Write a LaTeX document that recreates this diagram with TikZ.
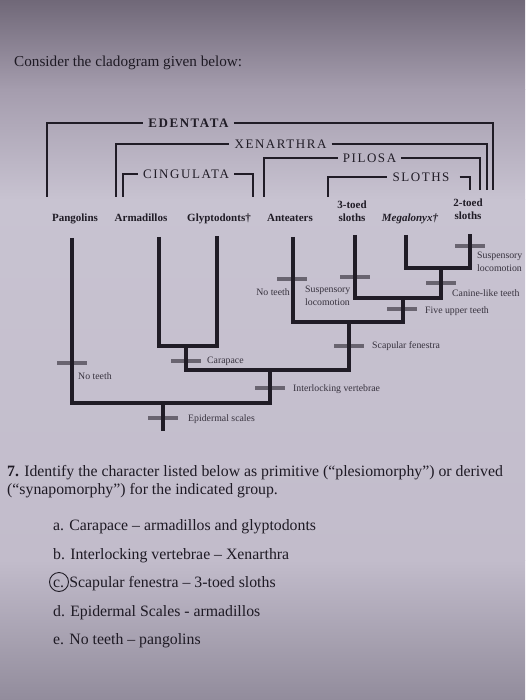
\documentclass[tikz,border=0pt]{standalone}
\usepackage{fontspec}
\setmainfont{Liberation Serif}
\newfontfamily\spacedfont[LetterSpace=12]{Liberation Serif}
\definecolor{ink}{RGB}{32,28,38}
\definecolor{labink}{RGB}{55,50,62}
\definecolor{qink}{RGB}{30,26,36}
\definecolor{tickgray}{RGB}{105,100,112}
\definecolor{bgtop}{RGB}{112,104,120}
\definecolor{bgupper}{RGB}{165,157,174}
\definecolor{bglight}{RGB}{200,195,209}
\definecolor{bglow}{RGB}{194,188,203}
\definecolor{bgbot}{RGB}{146,140,156}
\begin{document}
\begin{tikzpicture}[x=1pt,y=-1pt,
  branch/.style={draw=ink,line width=4.4pt,line join=miter},
  bracket/.style={draw=ink,line width=1.9pt},
  tickbar/.style={rectangle,fill=tickgray,minimum width=30pt,minimum height=4.6pt,inner sep=0pt},
  ticklab/.style={inner sep=0pt,text=labink,font=\fontsize{9.8}{12.5}\selectfont},
  taxon/.style={inner sep=0pt,anchor=base,text=ink,font=\fontsize{11}{13}\selectfont\bfseries},
  clade/.style={inner xsep=5pt,inner ysep=0pt,text=ink,font=\spacedfont\fontsize{13}{15}\selectfont},
  qtext/.style={inner sep=0pt,anchor=base west,text=qink,font=\fontsize{15.8}{19}\selectfont},
]
% background
\shade[top color=bgtop, bottom color=bgupper] (0,0) rectangle (525,90);
\shade[top color=bgupper, bottom color=bglight] (0,90) rectangle (525,200);
\shade[top color=bglight, bottom color=bglow] (0,200) rectangle (525,560);
\shade[top color=bglow, bottom color=bgbot] (0,560) rectangle (525,700);
\useasboundingbox (0,0) rectangle (525,700);

% header
\node[qtext,font=\fontsize{15.2}{18}\selectfont] (hdr) at (14,67) {Consider the cladogram given below:};

% clade brackets
\coordinate (edenL) at (47,197);   \coordinate (edenR) at (493,190);
\coordinate (xenL) at (116,197);   \coordinate (xenR) at (487,190);
\coordinate (cingL) at (123,197);  \coordinate (cingR) at (253,197);
\coordinate (pilL) at (264,197);   \coordinate (pilR) at (480,190);
\coordinate (slL) at (328,197);    \coordinate (slR) at (470,190);
\node[clade,font=\spacedfont\fontsize{13}{15}\selectfont\bfseries] (eden) at (188.5,123) {EDENTATA};
\node[clade] (xen) at (280.5,144) {XENARTHRA};
\node[clade] (cing) at (186,174) {CINGULATA};
\node[clade] (pil) at (369.5,158) {PILOSA};
\node[clade] (sl) at (421,177) {SLOTHS};
\draw[bracket] (edenL) |- (eden.west);
\draw[bracket] (eden.east) -| (edenR);
\draw[bracket] (xenL) |- (xen.west);
\draw[bracket] (xen.east) -| (xenR);
\draw[bracket] (cingL) |- (cing.west);
\draw[bracket] (cing.east) -| (cingR);
\draw[bracket] (pilL) |- (pil.west);
\draw[bracket] (pil.east) -| (pilR);
\draw[bracket] (slL) |- (sl.west);
\draw[bracket] ([xshift=5pt]sl.east) -| (slR);

% taxon labels
\node[taxon] (tPang) at (75,222) {Pangolins};
\node[taxon] (tArm) at (141,222) {Armadillos};
\node[taxon] (tGly) at (219,222) {Glyptodonts†};
\node[taxon] (tAnt) at (290,222) {Anteaters};
\node[taxon] (tT3a) at (352,209) {3-toed};
\node[taxon] (tT3b) at (352,222) {sloths};
\node[taxon,font=\fontsize{11}{13}\selectfont\bfseries\itshape] (tMeg) at (410,222) {Megalonyx†};
\node[taxon] (tT2a) at (468,207) {2-toed};
\node[taxon] (tT2b) at (468,220) {sloths};

% tree points
\coordinate (pangT) at (72,238);  \coordinate (pangB) at (72,403);
\coordinate (intB) at (270,403);  \coordinate (intT) at (270,370);
\coordinate (rootT) at (163,403); \coordinate (rootB) at (163,431);
\coordinate (armT) at (159,237);  \coordinate (armB) at (159,346);
\coordinate (glyB) at (217,346);  \coordinate (glyT) at (217,236);
\coordinate (cingT) at (186,346); \coordinate (cingB) at (186,370);
\coordinate (scapB) at (349,370); \coordinate (scapT) at (349,322);
\coordinate (antT) at (293,237);  \coordinate (antB) at (293,322);
\coordinate (fiveB) at (403,322); \coordinate (fiveT) at (403,298);
\coordinate (t3T) at (355,235);   \coordinate (t3B) at (355,298);
\coordinate (canB) at (441,298);  \coordinate (canT) at (441,268);
\coordinate (megT) at (406,235);  \coordinate (megB) at (406,268);
\coordinate (t2B) at (470,268);   \coordinate (t2T) at (470,234);

% character ticks
\node[tickbar] (tkPang) at (72,363) {};
\node[tickbar] (tkCara) at (186,361) {};
\node[tickbar] (tkEpi) at (163,418) {};
\node[tickbar] (tkInt) at (270,388) {};
\node[tickbar] (tkScap) at (349,346) {};
\node[tickbar] (tkAnt) at (292,279) {};
\node[tickbar] (tkT3) at (355,277) {};
\node[tickbar] (tkFive) at (402,309) {};
\node[tickbar] (tkCan) at (441,283) {};
\node[tickbar] (tkT2) at (470,246) {};

% branches
\draw[branch] (pangT) -- (pangB) -- (intB) -- (intT);
\draw[branch] (armT) -- (armB) -- (glyB) -- (glyT);
\draw[branch] (cingT) -- (cingB) -- (scapB) -- (scapT);
\draw[branch] (antT) -- (antB) -- (fiveB) -- (fiveT);
\draw[branch] (t3T) -- (t3B) -- (canB) -- (canT);
\draw[branch] (megT) -- (megB) -- (t2B) -- (t2T);
\draw[branch] (rootT) -- (rootB);

% character labels
\node[ticklab,anchor=west] (lbPang) at (78,376) {No teeth};
\node[ticklab,anchor=west] (lbCara) at (207,361) {Carapace};
\node[ticklab,anchor=west] (lbEpi) at (188,419) {Epidermal scales};
\node[ticklab,anchor=west] (lbInt) at (293,389) {Interlocking vertebrae};
\node[ticklab,anchor=west] (lbScap) at (372,346) {Scapular fenestra};
\node[ticklab,anchor=east] (lbAnt) at (290,292) {No teeth};
\node[ticklab,anchor=west,align=left] (lbT3) at (305,296) {Suspensory\\locomotion};
\node[ticklab,anchor=west] (lbFive) at (425,311) {Five upper teeth};
\node[ticklab,anchor=west] (lbCan) at (452,293) {Canine-like teeth};
\node[ticklab,anchor=west,align=left] (lbT2) at (477,262) {Suspensory\\locomotion};

% question
\node[qtext] (q7a) at (7,476) {\textbf{7.} Identify the character listed below as primitive (“plesiomorphy”) or derived};
\node[qtext] (q7b) at (7,494) {(“synapomorphy”) for the indicated group.};
\node[qtext] (qa) at (53,530) {a. Carapace – armadillos and glyptodonts};
\node[qtext] (qb) at (53,559) {b. Interlocking vertebrae – Xenarthra};
\node[qtext] (qc) at (53,587) {c. Scapular fenestra – 3-toed sloths};
\node[draw=ink,circle,line width=0.9pt,minimum size=19pt,inner sep=0pt] (circ) at (59,582) {};
\node[qtext] (qd) at (53,616) {d. Epidermal Scales - armadillos};
\node[qtext] (qe) at (53,644) {e. No teeth – pangolins};
\end{tikzpicture}
\end{document}
